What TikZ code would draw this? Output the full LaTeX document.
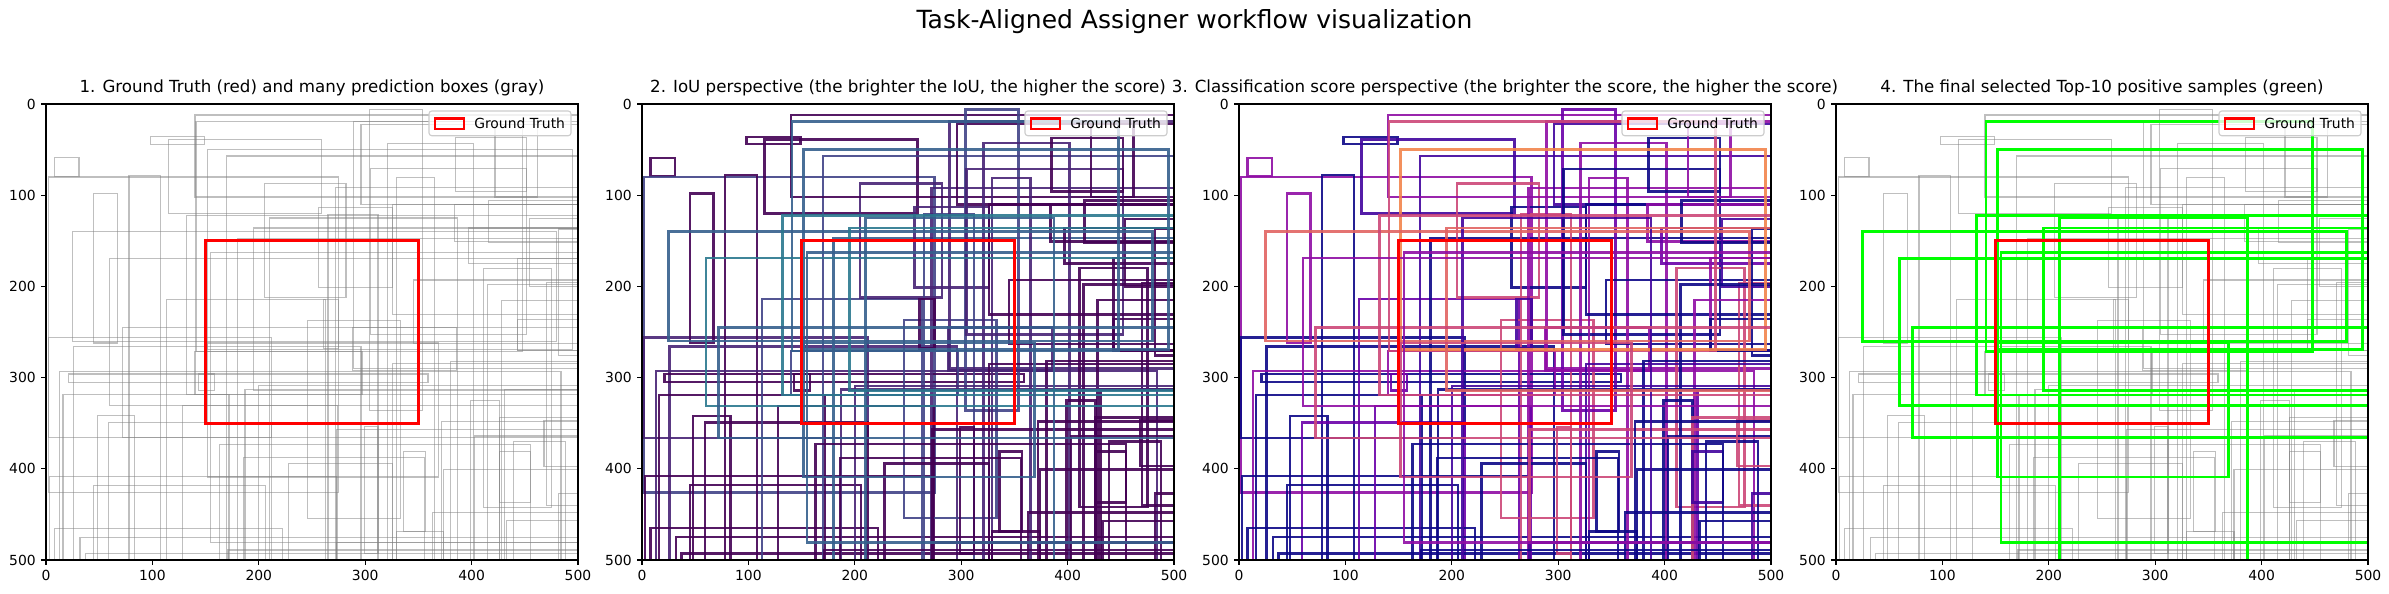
\documentclass[tikz,border=0pt]{standalone}
\usepackage{fontspec}
\setmainfont{DejaVu Sans}

\definecolor{gtred}{HTML}{FF0000}
\definecolor{posgreen}{HTML}{00FF00}
% viridis (IoU)
\definecolor{vir0}{HTML}{440154}
\definecolor{vir1}{HTML}{482475}
\definecolor{vir2}{HTML}{414487}
\definecolor{vir3}{HTML}{355F8D}
\definecolor{vir4}{HTML}{2A788E}
\definecolor{vir5}{HTML}{21918C}
\definecolor{vir6}{HTML}{22A884}
\definecolor{vir7}{HTML}{44BF70}
% plasma (score)
\definecolor{pl0}{HTML}{0D0887}
\definecolor{pl1}{HTML}{41049D}
\definecolor{pl2}{HTML}{6A00A8}
\definecolor{pl3}{HTML}{8F0DA4}
\definecolor{pl4}{HTML}{B12A90}
\definecolor{pl5}{HTML}{CC4778}
\definecolor{pl6}{HTML}{E16462}
\definecolor{pl7}{HTML}{F2844B}
\definecolor{pl8}{HTML}{FCA636}

\tikzset{
  panel/.style={shift={(#1,104)},xscale=1.064,yscale=0.912},
  predbox/.style={draw=gray,draw opacity=0.5,line width=0.8pt},
  colbox/.style={line width=1.8pt,draw opacity=0.9},
  gtbox/.style={draw=gtred,line width=2pt},
  posbox/.style={draw=posgreen,line width=2pt},
  axframe/.style={draw=black,line width=0.8pt},
  ticklab/.style={font=\fontsize{10}{12}\selectfont,inner sep=0pt},
  axtitle/.style={font=\fontsize{12}{14}\selectfont,inner sep=0pt,anchor=base},
  legframe/.style={draw=black!20,fill=white,fill opacity=0.8,rounded corners=2pt,line width=0.8pt},
  legtext/.style={font=\fontsize{10}{12}\selectfont,inner sep=0pt,anchor=west},
}

% x1/y1/x2/y2/score level
\def\predboxes{%
8/59/31/79/3,98/36/149/44/0,2/80/275/426/3,2/256/212/366/0,45/98/67/262/3,%
78/78/108/520/0,115/39/259/120/1,26/266/296/520/0,13/293/484/520/3,21/296/359/305/0,%
16/319/172/520/0,48/342/83/520/0,59/349/212/520/2,3/408/273/520/0,45/418/206/520/0,%
8/465/222/520/0,32/475/520/520/0,37/493/520/520/0,128/331/274/520/2,113/214/263/520/2,%
170/57/520/520/1,180/147/520/520/0,205/87/282/212/5,246/237/333/454/5,256/113/326/201/0,%
265/121/312/520/5,272/92/520/520/3,140/12/520/102/3,289/19/520/290/3,296/22/520/110/1,%
304/6/354/336/2,321/43/402/520/3,305/71/452/253/0,329/81/365/520/3,326/110/520/231/0,%
345/193/520/263/0,385/37/452/96/0,422/22/462/102/3,384/110/520/151/3,416/106/520/152/0,%
397/136/520/175/2,411/180/475/442/5,443/169/520/270/3,470/196/520/440/5,482/137/520/276/0,%
454/126/520/200/1,428/215/520/520/3,443/236/520/270/0,288/245/386/292/3,326/285/520/520/1,%
380/282/520/520/0,431/313/520/520/2,399/325/426/520/0,426/344/520/520/5,403/364/520/520/0,%
439/370/488/520/0,426/381/455/437/1,374/401/520/520/0,363/448/520/520/0,433/457/520/520/0,%
482/427/520/520/1,468/347/520/397/5,261/214/275/268/1,140/271/297/319/3,143/296/158/314/2,%
187/313/520/520/0,200/309/520/520/1,163/373/455/520/0,186/388/356/520/0,228/394/326/520/0,%
336/381/357/469/0,273/357/520/520/5,299/354/312/493/5,329/469/374/520/0,273/481/520/520/1,%
171/489/520/520/0,415/198/520/520/0,372/348/520/520/0}
% top-10 positives
\def\posboxes{%
141/19/448/271/5,152/50/495/269/7,25/140/480/260/6,132/122/520/319/5,210/125/387/520/1,%
195/136/520/314/6,60/169/520/331/3,72/245/520/366/5,152/262/369/409/5,155/163/520/481/3}
\edef\allboxes{\predboxes,\posboxes}

\begin{document}
\begin{tikzpicture}[x=0.72pt,y=-0.72pt]
\useasboundingbox (0,0) rectangle (2389,593);
\node[font=\fontsize{18}{21}\selectfont,inner sep=0pt] (suptitle) at (1194.5,22) {Task-Aligned Assigner workflow visualization};

% 1. gray predictions
\begin{scope}[panel=46]
\clip (0,0) rectangle (500,500);
\foreach \xa/\ya/\xb/\yb/\sc in \allboxes {\draw[predbox] (\xa,\ya) rectangle (\xb,\yb);}
\draw[gtbox] (150,150) rectangle (350,350);
\end{scope}

% 2. coloured by IoU
\begin{scope}[panel=642]
\clip (0,0) rectangle (500,500);
\foreach \xa/\ya/\xb/\yb/\sc in \allboxes {
  \pgfmathsetmacro\interw{max(0,min(\xb,350)-max(\xa,150))/100}
  \pgfmathsetmacro\interh{max(0,min(\yb,350)-max(\ya,150))/100}
  \pgfmathsetmacro\iouval{\interw*\interh/(((\xb-\xa)/100)*((\yb-\ya)/100)+4-\interw*\interh)}
  \pgfmathtruncatemacro\ioulv{min(7,round(10*\iouval))}
  \draw[colbox,draw=vir\ioulv] (\xa,\ya) rectangle (\xb,\yb);
}
\draw[gtbox] (150,150) rectangle (350,350);
\end{scope}

% 3. coloured by score
\begin{scope}[panel=1239]
\clip (0,0) rectangle (500,500);
\foreach \xa/\ya/\xb/\yb/\sc in \allboxes {\draw[colbox,draw=pl\sc] (\xa,\ya) rectangle (\xb,\yb);}
\draw[gtbox] (150,150) rectangle (350,350);
\end{scope}

% 4. top-10 in green
\begin{scope}[panel=1836]
\clip (0,0) rectangle (500,500);
\foreach \xa/\ya/\xb/\yb/\sc in \allboxes {\draw[predbox] (\xa,\ya) rectangle (\xb,\yb);}
\foreach \xa/\ya/\xb/\yb/\sc in \posboxes {\draw[posbox] (\xa,\ya) rectangle (\xb,\yb);}
\draw[gtbox] (150,150) rectangle (350,350);
\end{scope}

% axes, ticks, titles, legends
\foreach \px/\ttl [count=\pn] in {46/{1. Ground Truth (red) and many prediction boxes (gray)},
    642/{2. IoU perspective (the brighter the IoU, the higher the score)},
    1239/{3. Classification score perspective (the brighter the score, the higher the score)},
    1836/{4. The final selected Top-10 positive samples (green)}}{
  \draw[axframe] (\px,104) rectangle ++(532,456);
  \foreach \v in {0,100,...,500}{
    \draw[axframe] ({\px+1.064*\v},560) -- ++(0,4.9) node[ticklab,anchor=north,yshift=-3.5pt] (xt\pn-\v) {\v};
    \draw[axframe] (\px,{104+0.912*\v}) -- ++(-4.9,0) node[ticklab,anchor=east,xshift=-3.5pt] (yt\pn-\v) {\v};
  }
  \node[axtitle] (title\pn) at ({\px+266},92) {\ttl};
  \draw[legframe] ({\px+383},111) rectangle ({\px+525},135.7);
  \draw[gtbox] ({\px+389},118.3) rectangle ({\px+418},129);
  \node[legtext] (leg\pn) at ({\px+428},123.5) {Ground Truth};
}
\end{tikzpicture}
\end{document}
